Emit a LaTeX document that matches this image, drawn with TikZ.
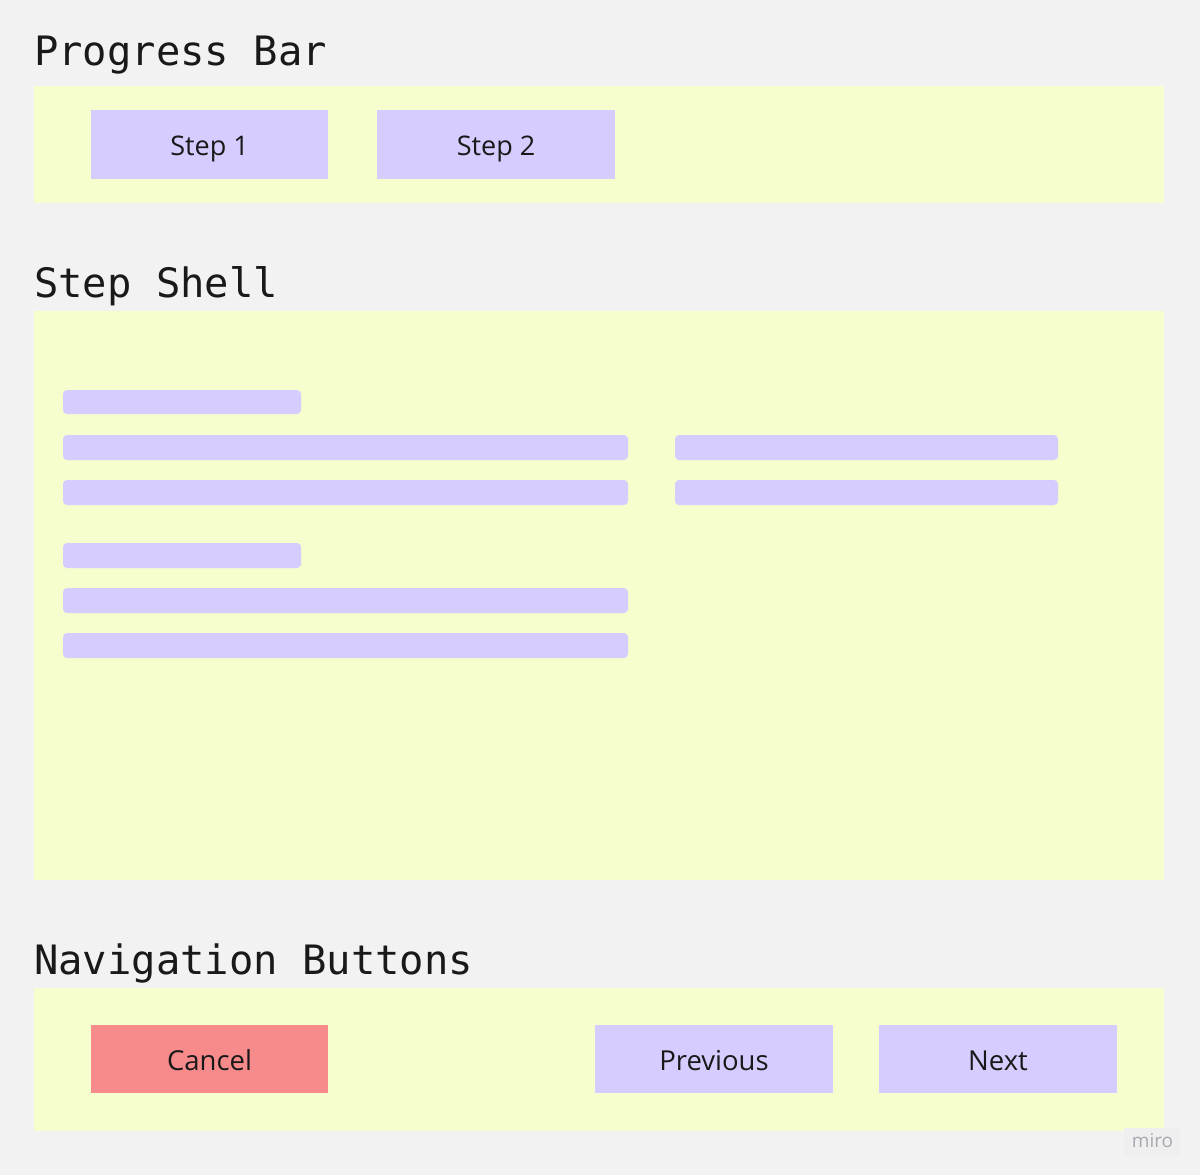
\documentclass[tikz,border=0pt]{standalone}
\usepackage{fontspec}
\setmainfont{Open Sans}
\newfontfamily\headfont{DejaVu Sans Mono}
\definecolor{bgc}{HTML}{F2F2F2}
\definecolor{panelc}{HTML}{F5FECC}
\definecolor{purplec}{HTML}{D6CCFF}
\definecolor{cancelc}{HTML}{F78B8B}
\definecolor{miroc}{HTML}{A8A8B2}
\definecolor{miroboxc}{HTML}{EFEFEF}
\tikzset{
  heading/.style={anchor=base west, inner sep=0pt, font=\headfont\fontsize{40.5}{40.5}\selectfont, text=black!90},
  panel/.style={fill=panelc, draw=none},
  btntext/.style={anchor=base, inner sep=0pt, font=\fontsize{27}{27}\selectfont, text=black!90},
  bar/.style={fill=purplec, draw=none, rounded corners=4pt},
}
\begin{document}
\begin{tikzpicture}[x=1pt,y=-1pt]
\fill[bgc] (0,0) rectangle (1200,1175);
\useasboundingbox (0,0) rectangle (1200,1175);

% Progress Bar
\node[heading] (t1) at (34,65) {Progress Bar};
\fill[panel] (34,86) rectangle (1164,203);
\fill[purplec] (91,110) rectangle (328,179);
\node[btntext] (s1) at (209.5,155) {Step 1};
\fill[purplec] (377,110) rectangle (615,179);
\node[btntext] (s2) at (496,155) {Step 2};

% Step Shell
\node[heading] (t2) at (34,297) {Step Shell};
\fill[panel] (34,311) rectangle (1164,880);
\fill[bar] (63,390) rectangle (301,414);
\fill[bar] (63,435) rectangle (628,460);
\fill[bar] (63,480) rectangle (628,505);
\fill[bar] (675,435) rectangle (1058,460);
\fill[bar] (675,480) rectangle (1058,505);
\fill[bar] (63,543) rectangle (301,568);
\fill[bar] (63,588) rectangle (628,613);
\fill[bar] (63,633) rectangle (628,658);

% Navigation Buttons
\node[heading] (t3) at (34,974) {Navigation Buttons};
\fill[panel] (34,988) rectangle (1164,1131);
\fill[cancelc] (91,1025) rectangle (328,1093);
\node[btntext, font=\fontsize{27.5}{27.5}\selectfont] (c) at (209.5,1070) {Cancel};
\fill[purplec] (595,1025) rectangle (833,1093);
\node[btntext, font=\fontsize{27.5}{27.5}\selectfont] (p) at (714,1070) {Previous};
\fill[purplec] (879,1025) rectangle (1117,1093);
\node[btntext, font=\fontsize{27.5}{27.5}\selectfont] (n) at (998,1070) {Next};

% watermark
\fill[miroboxc] (1124,1128) rectangle (1180,1156);
\node[font=\fontsize{19}{19}\selectfont, text=miroc, anchor=base, inner sep=0pt] (m) at (1152.5,1147) {miro};
\end{tikzpicture}
\end{document}
